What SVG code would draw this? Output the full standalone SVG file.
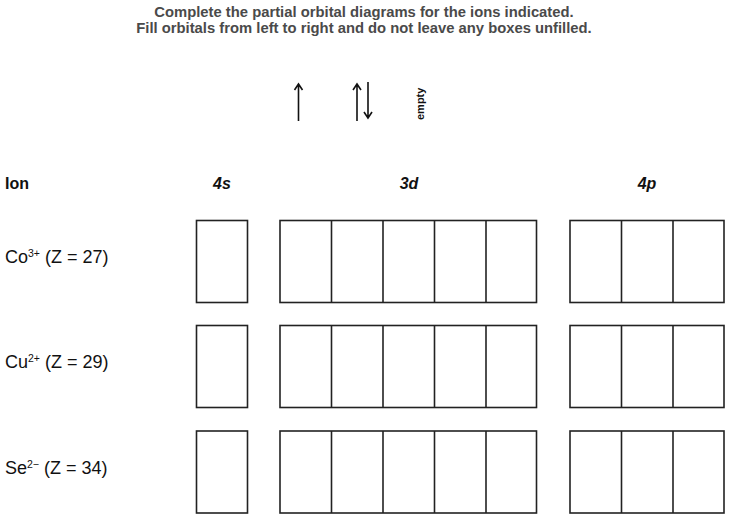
<svg xmlns="http://www.w3.org/2000/svg" width="729" height="519" viewBox="0 0 729 519">
<style>
.title{font-family:"Liberation Sans",Arial,sans-serif;font-weight:bold;font-size:14.8px;fill:#4a4a4a;text-anchor:middle}
.hdr{font-family:"Liberation Sans",Arial,sans-serif;font-weight:bold;font-size:16px;fill:#111}
.hdri{font-family:"Liberation Sans",Arial,sans-serif;font-weight:bold;font-style:italic;font-size:16px;fill:#111;text-anchor:middle}
.ion{font-family:"Liberation Sans",Arial,sans-serif;font-size:18px;fill:#111}
.sup{font-size:10.5px}
.box{fill:#fff;stroke:#222;stroke-width:1.6}
.div{stroke:#222;stroke-width:1.6}
.arr{stroke:#111;stroke-width:1.6;fill:none}
.empty{font-family:"Liberation Sans",Arial,sans-serif;font-weight:bold;font-size:11px;fill:#111}
</style>
<rect width="729" height="519" fill="#fff"/>
<g id="title">
<text class="title" x="364" y="17">Complete the partial orbital diagrams for the ions indicated.</text>
<text class="title" x="364" y="33">Fill orbitals from left to right and do not leave any boxes unfilled.</text>
</g>
<g id="legend">
<path class="arr" d="M298.5 121V84M294.5 90L298.5 84L302.5 90"/>
<path class="arr" d="M357 121V84M353 90L357 84L361 90"/>
<path class="arr" d="M368 82V118M364 112L368 118L372 112"/>
<text class="empty" transform="translate(424,120) rotate(-90)">empty</text>
</g>
<g id="headers">
<text class="hdr" x="5" y="189">Ion</text>
<text class="hdri" x="222" y="189">4s</text>
<text class="hdri" x="409" y="189">3d</text>
<text class="hdri" x="647" y="189">4p</text>
</g>
<g id="row-co">
<text class="ion" x="5" y="263">Co<tspan class="sup" dy="-6">3+</tspan><tspan dy="6"> (Z = 27)</tspan></text>
<rect class="box" x="196.5" y="220.5" width="51" height="82"/>
<rect class="box" x="280" y="220.5" width="256.5" height="82"/>
<path class="div" d="M331.5 220.5V302.5M383 220.5V302.5M434.5 220.5V302.5M486 220.5V302.5"/>
<rect class="box" x="570" y="220.5" width="154" height="82"/>
<path class="div" d="M621.5 220.5V302.5M673 220.5V302.5"/>
</g>
<g id="row-cu">
<text class="ion" x="5" y="368">Cu<tspan class="sup" dy="-6">2+</tspan><tspan dy="6"> (Z = 29)</tspan></text>
<rect class="box" x="196.5" y="325.5" width="51" height="82"/>
<rect class="box" x="280" y="325.5" width="256.5" height="82"/>
<path class="div" d="M331.5 325.5V407.5M383 325.5V407.5M434.5 325.5V407.5M486 325.5V407.5"/>
<rect class="box" x="570" y="325.5" width="154" height="82"/>
<path class="div" d="M621.5 325.5V407.5M673 325.5V407.5"/>
</g>
<g id="row-se">
<text class="ion" x="5" y="474">Se<tspan class="sup" dy="-6">2−</tspan><tspan dy="6"> (Z = 34)</tspan></text>
<rect class="box" x="196.5" y="431" width="51" height="82"/>
<rect class="box" x="280" y="431" width="256.5" height="82"/>
<path class="div" d="M331.5 431V513M383 431V513M434.5 431V513M486 431V513"/>
<rect class="box" x="570" y="431" width="154" height="82"/>
<path class="div" d="M621.5 431V513M673 431V513"/>
</g>
</svg>
